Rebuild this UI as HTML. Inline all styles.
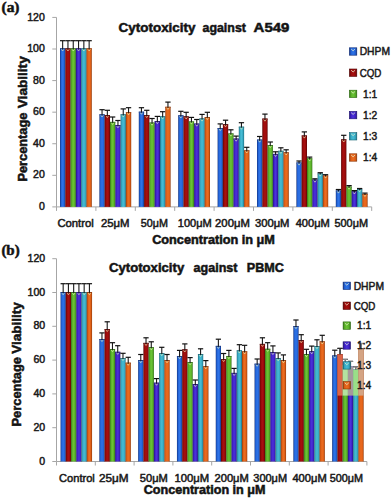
<!DOCTYPE html>
<html><head><meta charset="utf-8"><style>
html,body{margin:0;padding:0;background:#fff;width:392px;height:498px;overflow:hidden}
svg{display:block;font-family:"Liberation Sans", sans-serif}
text{stroke:#1a1a1a;stroke-width:0.5px}
text[font-weight]{stroke-width:0.55px}
</style></head><body>
<svg width="392" height="498" viewBox="0 0 392 498">
<defs><linearGradient id="g0" x1="0" y1="0" x2="1" y2="0"><stop offset="0" stop-color="#0e2c78"/><stop offset="0.2" stop-color="#2262d4"/><stop offset="0.5" stop-color="#2e74e8"/><stop offset="0.8" stop-color="#2262d4"/><stop offset="1" stop-color="#0e2c78"/></linearGradient><linearGradient id="g1" x1="0" y1="0" x2="1" y2="0"><stop offset="0" stop-color="#540202"/><stop offset="0.2" stop-color="#960a0a"/><stop offset="0.5" stop-color="#a81010"/><stop offset="0.8" stop-color="#960a0a"/><stop offset="1" stop-color="#540202"/></linearGradient><linearGradient id="g2" x1="0" y1="0" x2="1" y2="0"><stop offset="0" stop-color="#2c6a10"/><stop offset="0.2" stop-color="#58ae28"/><stop offset="0.5" stop-color="#6ac434"/><stop offset="0.8" stop-color="#58ae28"/><stop offset="1" stop-color="#2c6a10"/></linearGradient><linearGradient id="g3" x1="0" y1="0" x2="1" y2="0"><stop offset="0" stop-color="#1e1074"/><stop offset="0.2" stop-color="#3e20c4"/><stop offset="0.5" stop-color="#4c32da"/><stop offset="0.8" stop-color="#3e20c4"/><stop offset="1" stop-color="#1e1074"/></linearGradient><linearGradient id="g4" x1="0" y1="0" x2="1" y2="0"><stop offset="0" stop-color="#186474"/><stop offset="0.2" stop-color="#36a8c2"/><stop offset="0.5" stop-color="#46bcd4"/><stop offset="0.8" stop-color="#36a8c2"/><stop offset="1" stop-color="#186474"/></linearGradient><linearGradient id="g5" x1="0" y1="0" x2="1" y2="0"><stop offset="0" stop-color="#8a3406"/><stop offset="0.2" stop-color="#dc5e16"/><stop offset="0.5" stop-color="#ec6c20"/><stop offset="0.8" stop-color="#dc5e16"/><stop offset="1" stop-color="#8a3406"/></linearGradient></defs>
<line x1="56.5" y1="17.42" x2="56.5" y2="206.90" stroke="#a6a6a6" stroke-width="1"/>
<line x1="52.30" y1="206.90" x2="56.5" y2="206.90" stroke="#a6a6a6" stroke-width="1"/>
<text x="44.80" y="210.00" text-anchor="end" font-size="10.8" textLength="5.87" lengthAdjust="spacingAndGlyphs" fill="#1a1a1a">0</text>
<line x1="52.30" y1="175.32" x2="56.5" y2="175.32" stroke="#a6a6a6" stroke-width="1"/>
<text x="44.80" y="178.42" text-anchor="end" font-size="10.8" textLength="11.74" lengthAdjust="spacingAndGlyphs" fill="#1a1a1a">20</text>
<line x1="52.30" y1="143.74" x2="56.5" y2="143.74" stroke="#a6a6a6" stroke-width="1"/>
<text x="44.80" y="146.84" text-anchor="end" font-size="10.8" textLength="11.74" lengthAdjust="spacingAndGlyphs" fill="#1a1a1a">40</text>
<line x1="52.30" y1="112.16" x2="56.5" y2="112.16" stroke="#a6a6a6" stroke-width="1"/>
<text x="44.80" y="115.26" text-anchor="end" font-size="10.8" textLength="11.74" lengthAdjust="spacingAndGlyphs" fill="#1a1a1a">60</text>
<line x1="52.30" y1="80.58" x2="56.5" y2="80.58" stroke="#a6a6a6" stroke-width="1"/>
<text x="44.80" y="83.68" text-anchor="end" font-size="10.8" textLength="11.74" lengthAdjust="spacingAndGlyphs" fill="#1a1a1a">80</text>
<line x1="52.30" y1="49.00" x2="56.5" y2="49.00" stroke="#a6a6a6" stroke-width="1"/>
<text x="44.80" y="52.10" text-anchor="end" font-size="10.8" textLength="17.61" lengthAdjust="spacingAndGlyphs" fill="#1a1a1a">100</text>
<line x1="52.30" y1="17.42" x2="56.5" y2="17.42" stroke="#a6a6a6" stroke-width="1"/>
<text x="44.80" y="20.52" text-anchor="end" font-size="10.8" textLength="17.61" lengthAdjust="spacingAndGlyphs" fill="#1a1a1a">120</text>
<line x1="56.5" y1="206.90" x2="371.70" y2="206.90" stroke="#a6a6a6" stroke-width="1"/>
<line x1="56.50" y1="206.90" x2="56.50" y2="210.90" stroke="#a6a6a6" stroke-width="1"/>
<line x1="95.90" y1="206.90" x2="95.90" y2="210.90" stroke="#a6a6a6" stroke-width="1"/>
<line x1="135.30" y1="206.90" x2="135.30" y2="210.90" stroke="#a6a6a6" stroke-width="1"/>
<line x1="174.70" y1="206.90" x2="174.70" y2="210.90" stroke="#a6a6a6" stroke-width="1"/>
<line x1="214.10" y1="206.90" x2="214.10" y2="210.90" stroke="#a6a6a6" stroke-width="1"/>
<line x1="253.50" y1="206.90" x2="253.50" y2="210.90" stroke="#a6a6a6" stroke-width="1"/>
<line x1="292.90" y1="206.90" x2="292.90" y2="210.90" stroke="#a6a6a6" stroke-width="1"/>
<line x1="332.30" y1="206.90" x2="332.30" y2="210.90" stroke="#a6a6a6" stroke-width="1"/>
<line x1="371.70" y1="206.90" x2="371.70" y2="210.90" stroke="#a6a6a6" stroke-width="1"/>
<rect x="60.00" y="48.40" width="5.30" height="158.50" fill="url(#g0)"/>
<rect x="60.00" y="48.40" width="5.30" height="0.8" fill="#0e2c78"/>
<path d="M61.35 49.20 L62.65 51.00 L63.95 49.20" stroke="#e4f0b8" stroke-width="0.9" fill="none" opacity="0.7"/>
<line x1="62.65" y1="40.70" x2="62.65" y2="49.20" stroke="#1a1a1a" stroke-width="1.1"/>
<line x1="60.00" y1="40.70" x2="65.30" y2="40.70" stroke="#111" stroke-width="1.2"/>
<rect x="65.30" y="48.40" width="5.30" height="158.50" fill="url(#g1)"/>
<rect x="65.30" y="48.40" width="5.30" height="0.8" fill="#540202"/>
<path d="M66.65 49.20 L67.95 51.00 L69.25 49.20" stroke="#e4f0b8" stroke-width="0.9" fill="none" opacity="0.7"/>
<line x1="67.95" y1="40.70" x2="67.95" y2="49.20" stroke="#1a1a1a" stroke-width="1.1"/>
<line x1="65.30" y1="40.70" x2="70.60" y2="40.70" stroke="#111" stroke-width="1.2"/>
<rect x="70.60" y="48.40" width="5.30" height="158.50" fill="url(#g2)"/>
<rect x="70.60" y="48.40" width="5.30" height="0.8" fill="#2c6a10"/>
<path d="M71.95 49.20 L73.25 51.00 L74.55 49.20" stroke="#e4f0b8" stroke-width="0.9" fill="none" opacity="0.7"/>
<line x1="73.25" y1="40.70" x2="73.25" y2="49.20" stroke="#1a1a1a" stroke-width="1.1"/>
<line x1="70.60" y1="40.70" x2="75.90" y2="40.70" stroke="#111" stroke-width="1.2"/>
<rect x="75.90" y="48.40" width="5.30" height="158.50" fill="url(#g3)"/>
<rect x="75.90" y="48.40" width="5.30" height="0.8" fill="#1e1074"/>
<path d="M77.25 49.20 L78.55 51.00 L79.85 49.20" stroke="#e4f0b8" stroke-width="0.9" fill="none" opacity="0.7"/>
<line x1="78.55" y1="40.70" x2="78.55" y2="49.20" stroke="#1a1a1a" stroke-width="1.1"/>
<line x1="75.90" y1="40.70" x2="81.20" y2="40.70" stroke="#111" stroke-width="1.2"/>
<rect x="81.20" y="48.40" width="5.30" height="158.50" fill="url(#g4)"/>
<rect x="81.20" y="48.40" width="5.30" height="0.8" fill="#186474"/>
<path d="M82.55 49.20 L83.85 51.00 L85.15 49.20" stroke="#e4f0b8" stroke-width="0.9" fill="none" opacity="0.7"/>
<line x1="83.85" y1="40.70" x2="83.85" y2="49.20" stroke="#1a1a1a" stroke-width="1.1"/>
<line x1="81.20" y1="40.70" x2="86.50" y2="40.70" stroke="#111" stroke-width="1.2"/>
<rect x="86.50" y="48.40" width="5.30" height="158.50" fill="url(#g5)"/>
<rect x="86.50" y="48.40" width="5.30" height="0.8" fill="#8a3406"/>
<path d="M87.85 49.20 L89.15 51.00 L90.45 49.20" stroke="#e4f0b8" stroke-width="0.9" fill="none" opacity="0.7"/>
<line x1="89.15" y1="40.70" x2="89.15" y2="49.20" stroke="#1a1a1a" stroke-width="1.1"/>
<line x1="86.50" y1="40.70" x2="91.80" y2="40.70" stroke="#111" stroke-width="1.2"/>
<rect x="99.40" y="114.40" width="5.30" height="92.50" fill="url(#g0)"/>
<rect x="99.40" y="114.40" width="5.30" height="0.8" fill="#0e2c78"/>
<path d="M100.75 115.20 L102.05 117.00 L103.35 115.20" stroke="#e4f0b8" stroke-width="0.9" fill="none" opacity="0.7"/>
<line x1="102.05" y1="109.70" x2="102.05" y2="115.20" stroke="#1a1a1a" stroke-width="1.1"/>
<line x1="99.40" y1="109.70" x2="104.70" y2="109.70" stroke="#111" stroke-width="1.2"/>
<rect x="104.70" y="115.00" width="5.30" height="91.90" fill="url(#g1)"/>
<rect x="104.70" y="115.00" width="5.30" height="0.8" fill="#540202"/>
<path d="M106.05 115.80 L107.35 117.60 L108.65 115.80" stroke="#e4f0b8" stroke-width="0.9" fill="none" opacity="0.7"/>
<line x1="107.35" y1="110.30" x2="107.35" y2="115.80" stroke="#1a1a1a" stroke-width="1.1"/>
<line x1="104.70" y1="110.30" x2="110.00" y2="110.30" stroke="#111" stroke-width="1.2"/>
<rect x="110.00" y="121.90" width="5.30" height="85.00" fill="url(#g2)"/>
<rect x="110.00" y="121.90" width="5.30" height="0.8" fill="#2c6a10"/>
<path d="M111.35 122.70 L112.65 124.50 L113.95 122.70" stroke="#e4f0b8" stroke-width="0.9" fill="none" opacity="0.7"/>
<line x1="112.65" y1="117.00" x2="112.65" y2="122.70" stroke="#1a1a1a" stroke-width="1.1"/>
<line x1="110.00" y1="117.00" x2="115.30" y2="117.00" stroke="#111" stroke-width="1.2"/>
<rect x="115.30" y="125.20" width="5.30" height="81.70" fill="url(#g3)"/>
<rect x="115.30" y="125.20" width="5.30" height="0.8" fill="#1e1074"/>
<path d="M116.65 126.00 L117.95 127.80 L119.25 126.00" stroke="#e4f0b8" stroke-width="0.9" fill="none" opacity="0.7"/>
<line x1="117.95" y1="120.50" x2="117.95" y2="126.00" stroke="#1a1a1a" stroke-width="1.1"/>
<line x1="115.30" y1="120.50" x2="120.60" y2="120.50" stroke="#111" stroke-width="1.2"/>
<rect x="120.60" y="114.40" width="5.30" height="92.50" fill="url(#g4)"/>
<rect x="120.60" y="114.40" width="5.30" height="0.8" fill="#186474"/>
<path d="M121.95 115.20 L123.25 117.00 L124.55 115.20" stroke="#e4f0b8" stroke-width="0.9" fill="none" opacity="0.7"/>
<line x1="123.25" y1="108.90" x2="123.25" y2="115.20" stroke="#1a1a1a" stroke-width="1.1"/>
<line x1="120.60" y1="108.90" x2="125.90" y2="108.90" stroke="#111" stroke-width="1.2"/>
<rect x="125.90" y="112.30" width="5.30" height="94.60" fill="url(#g5)"/>
<rect x="125.90" y="112.30" width="5.30" height="0.8" fill="#8a3406"/>
<path d="M127.25 113.10 L128.55 114.90 L129.85 113.10" stroke="#e4f0b8" stroke-width="0.9" fill="none" opacity="0.7"/>
<line x1="128.55" y1="107.70" x2="128.55" y2="113.10" stroke="#1a1a1a" stroke-width="1.1"/>
<line x1="125.90" y1="107.70" x2="131.20" y2="107.70" stroke="#111" stroke-width="1.2"/>
<rect x="138.80" y="111.70" width="5.30" height="95.20" fill="url(#g0)"/>
<rect x="138.80" y="111.70" width="5.30" height="0.8" fill="#0e2c78"/>
<path d="M140.15 112.50 L141.45 114.30 L142.75 112.50" stroke="#e4f0b8" stroke-width="0.9" fill="none" opacity="0.7"/>
<line x1="141.45" y1="107.70" x2="141.45" y2="112.50" stroke="#1a1a1a" stroke-width="1.1"/>
<line x1="138.80" y1="107.70" x2="144.10" y2="107.70" stroke="#111" stroke-width="1.2"/>
<rect x="144.10" y="115.00" width="5.30" height="91.90" fill="url(#g1)"/>
<rect x="144.10" y="115.00" width="5.30" height="0.8" fill="#540202"/>
<path d="M145.45 115.80 L146.75 117.60 L148.05 115.80" stroke="#e4f0b8" stroke-width="0.9" fill="none" opacity="0.7"/>
<line x1="146.75" y1="110.30" x2="146.75" y2="115.80" stroke="#1a1a1a" stroke-width="1.1"/>
<line x1="144.10" y1="110.30" x2="149.40" y2="110.30" stroke="#111" stroke-width="1.2"/>
<rect x="149.40" y="122.60" width="5.30" height="84.30" fill="url(#g2)"/>
<rect x="149.40" y="122.60" width="5.30" height="0.8" fill="#2c6a10"/>
<path d="M150.75 123.40 L152.05 125.20 L153.35 123.40" stroke="#e4f0b8" stroke-width="0.9" fill="none" opacity="0.7"/>
<line x1="152.05" y1="118.50" x2="152.05" y2="123.40" stroke="#1a1a1a" stroke-width="1.1"/>
<line x1="149.40" y1="118.50" x2="154.70" y2="118.50" stroke="#111" stroke-width="1.2"/>
<rect x="154.70" y="121.10" width="5.30" height="85.80" fill="url(#g3)"/>
<rect x="154.70" y="121.10" width="5.30" height="0.8" fill="#1e1074"/>
<path d="M156.05 121.90 L157.35 123.70 L158.65 121.90" stroke="#e4f0b8" stroke-width="0.9" fill="none" opacity="0.7"/>
<line x1="157.35" y1="116.40" x2="157.35" y2="121.90" stroke="#1a1a1a" stroke-width="1.1"/>
<line x1="154.70" y1="116.40" x2="160.00" y2="116.40" stroke="#111" stroke-width="1.2"/>
<rect x="160.00" y="116.40" width="5.30" height="90.50" fill="url(#g4)"/>
<rect x="160.00" y="116.40" width="5.30" height="0.8" fill="#186474"/>
<path d="M161.35 117.20 L162.65 119.00 L163.95 117.20" stroke="#e4f0b8" stroke-width="0.9" fill="none" opacity="0.7"/>
<line x1="162.65" y1="111.70" x2="162.65" y2="117.20" stroke="#1a1a1a" stroke-width="1.1"/>
<line x1="160.00" y1="111.70" x2="165.30" y2="111.70" stroke="#111" stroke-width="1.2"/>
<rect x="165.30" y="106.80" width="5.30" height="100.10" fill="url(#g5)"/>
<rect x="165.30" y="106.80" width="5.30" height="0.8" fill="#8a3406"/>
<path d="M166.65 107.60 L167.95 109.40 L169.25 107.60" stroke="#e4f0b8" stroke-width="0.9" fill="none" opacity="0.7"/>
<line x1="167.95" y1="102.10" x2="167.95" y2="107.60" stroke="#1a1a1a" stroke-width="1.1"/>
<line x1="165.30" y1="102.10" x2="170.60" y2="102.10" stroke="#111" stroke-width="1.2"/>
<rect x="178.20" y="115.40" width="5.30" height="91.50" fill="url(#g0)"/>
<rect x="178.20" y="115.40" width="5.30" height="0.8" fill="#0e2c78"/>
<path d="M179.55 116.20 L180.85 118.00 L182.15 116.20" stroke="#e4f0b8" stroke-width="0.9" fill="none" opacity="0.7"/>
<line x1="180.85" y1="111.30" x2="180.85" y2="116.20" stroke="#1a1a1a" stroke-width="1.1"/>
<line x1="178.20" y1="111.30" x2="183.50" y2="111.30" stroke="#111" stroke-width="1.2"/>
<rect x="183.50" y="116.40" width="5.30" height="90.50" fill="url(#g1)"/>
<rect x="183.50" y="116.40" width="5.30" height="0.8" fill="#540202"/>
<path d="M184.85 117.20 L186.15 119.00 L187.45 117.20" stroke="#e4f0b8" stroke-width="0.9" fill="none" opacity="0.7"/>
<line x1="186.15" y1="112.30" x2="186.15" y2="117.20" stroke="#1a1a1a" stroke-width="1.1"/>
<line x1="183.50" y1="112.30" x2="188.80" y2="112.30" stroke="#111" stroke-width="1.2"/>
<rect x="188.80" y="121.50" width="5.30" height="85.40" fill="url(#g2)"/>
<rect x="188.80" y="121.50" width="5.30" height="0.8" fill="#2c6a10"/>
<path d="M190.15 122.30 L191.45 124.10 L192.75 122.30" stroke="#e4f0b8" stroke-width="0.9" fill="none" opacity="0.7"/>
<line x1="191.45" y1="117.40" x2="191.45" y2="122.30" stroke="#1a1a1a" stroke-width="1.1"/>
<line x1="188.80" y1="117.40" x2="194.10" y2="117.40" stroke="#111" stroke-width="1.2"/>
<rect x="194.10" y="123.60" width="5.30" height="83.30" fill="url(#g3)"/>
<rect x="194.10" y="123.60" width="5.30" height="0.8" fill="#1e1074"/>
<path d="M195.45 124.40 L196.75 126.20 L198.05 124.40" stroke="#e4f0b8" stroke-width="0.9" fill="none" opacity="0.7"/>
<line x1="196.75" y1="119.50" x2="196.75" y2="124.40" stroke="#1a1a1a" stroke-width="1.1"/>
<line x1="194.10" y1="119.50" x2="199.40" y2="119.50" stroke="#111" stroke-width="1.2"/>
<rect x="199.40" y="118.50" width="5.30" height="88.40" fill="url(#g4)"/>
<rect x="199.40" y="118.50" width="5.30" height="0.8" fill="#186474"/>
<path d="M200.75 119.30 L202.05 121.10 L203.35 119.30" stroke="#e4f0b8" stroke-width="0.9" fill="none" opacity="0.7"/>
<line x1="202.05" y1="114.40" x2="202.05" y2="119.30" stroke="#1a1a1a" stroke-width="1.1"/>
<line x1="199.40" y1="114.40" x2="204.70" y2="114.40" stroke="#111" stroke-width="1.2"/>
<rect x="204.70" y="117.00" width="5.30" height="89.90" fill="url(#g5)"/>
<rect x="204.70" y="117.00" width="5.30" height="0.8" fill="#8a3406"/>
<path d="M206.05 117.80 L207.35 119.60 L208.65 117.80" stroke="#e4f0b8" stroke-width="0.9" fill="none" opacity="0.7"/>
<line x1="207.35" y1="112.30" x2="207.35" y2="117.80" stroke="#1a1a1a" stroke-width="1.1"/>
<line x1="204.70" y1="112.30" x2="210.00" y2="112.30" stroke="#111" stroke-width="1.2"/>
<rect x="217.60" y="128.00" width="5.30" height="78.90" fill="url(#g0)"/>
<rect x="217.60" y="128.00" width="5.30" height="0.8" fill="#0e2c78"/>
<path d="M218.95 128.80 L220.25 130.60 L221.55 128.80" stroke="#e4f0b8" stroke-width="0.9" fill="none" opacity="0.7"/>
<line x1="220.25" y1="123.90" x2="220.25" y2="128.80" stroke="#1a1a1a" stroke-width="1.1"/>
<line x1="217.60" y1="123.90" x2="222.90" y2="123.90" stroke="#111" stroke-width="1.2"/>
<rect x="222.90" y="124.30" width="5.30" height="82.60" fill="url(#g1)"/>
<rect x="222.90" y="124.30" width="5.30" height="0.8" fill="#540202"/>
<path d="M224.25 125.10 L225.55 126.90 L226.85 125.10" stroke="#e4f0b8" stroke-width="0.9" fill="none" opacity="0.7"/>
<line x1="225.55" y1="120.20" x2="225.55" y2="125.10" stroke="#1a1a1a" stroke-width="1.1"/>
<line x1="222.90" y1="120.20" x2="228.20" y2="120.20" stroke="#111" stroke-width="1.2"/>
<rect x="228.20" y="133.50" width="5.30" height="73.40" fill="url(#g2)"/>
<rect x="228.20" y="133.50" width="5.30" height="0.8" fill="#2c6a10"/>
<path d="M229.55 134.30 L230.85 136.10 L232.15 134.30" stroke="#e4f0b8" stroke-width="0.9" fill="none" opacity="0.7"/>
<line x1="230.85" y1="129.80" x2="230.85" y2="134.30" stroke="#1a1a1a" stroke-width="1.1"/>
<line x1="228.20" y1="129.80" x2="233.50" y2="129.80" stroke="#111" stroke-width="1.2"/>
<rect x="233.50" y="138.60" width="5.30" height="68.30" fill="url(#g3)"/>
<rect x="233.50" y="138.60" width="5.30" height="0.8" fill="#1e1074"/>
<path d="M234.85 139.40 L236.15 141.20 L237.45 139.40" stroke="#e4f0b8" stroke-width="0.9" fill="none" opacity="0.7"/>
<line x1="236.15" y1="136.10" x2="236.15" y2="139.40" stroke="#1a1a1a" stroke-width="1.1"/>
<line x1="233.50" y1="136.10" x2="238.80" y2="136.10" stroke="#111" stroke-width="1.2"/>
<rect x="238.80" y="126.70" width="5.30" height="80.20" fill="url(#g4)"/>
<rect x="238.80" y="126.70" width="5.30" height="0.8" fill="#186474"/>
<path d="M240.15 127.50 L241.45 129.30 L242.75 127.50" stroke="#e4f0b8" stroke-width="0.9" fill="none" opacity="0.7"/>
<line x1="241.45" y1="122.70" x2="241.45" y2="127.50" stroke="#1a1a1a" stroke-width="1.1"/>
<line x1="238.80" y1="122.70" x2="244.10" y2="122.70" stroke="#111" stroke-width="1.2"/>
<rect x="244.10" y="150.40" width="5.30" height="56.50" fill="url(#g5)"/>
<rect x="244.10" y="150.40" width="5.30" height="0.8" fill="#8a3406"/>
<path d="M245.45 151.20 L246.75 153.00 L248.05 151.20" stroke="#e4f0b8" stroke-width="0.9" fill="none" opacity="0.7"/>
<line x1="246.75" y1="147.30" x2="246.75" y2="151.20" stroke="#1a1a1a" stroke-width="1.1"/>
<line x1="244.10" y1="147.30" x2="249.40" y2="147.30" stroke="#111" stroke-width="1.2"/>
<rect x="257.00" y="139.60" width="5.30" height="67.30" fill="url(#g0)"/>
<rect x="257.00" y="139.60" width="5.30" height="0.8" fill="#0e2c78"/>
<path d="M258.35 140.40 L259.65 142.20 L260.95 140.40" stroke="#e4f0b8" stroke-width="0.9" fill="none" opacity="0.7"/>
<line x1="259.65" y1="136.50" x2="259.65" y2="140.40" stroke="#1a1a1a" stroke-width="1.1"/>
<line x1="257.00" y1="136.50" x2="262.30" y2="136.50" stroke="#111" stroke-width="1.2"/>
<rect x="262.30" y="118.60" width="5.30" height="88.30" fill="url(#g1)"/>
<rect x="262.30" y="118.60" width="5.30" height="0.8" fill="#540202"/>
<path d="M263.65 119.40 L264.95 121.20 L266.25 119.40" stroke="#e4f0b8" stroke-width="0.9" fill="none" opacity="0.7"/>
<line x1="264.95" y1="114.10" x2="264.95" y2="119.40" stroke="#1a1a1a" stroke-width="1.1"/>
<line x1="262.30" y1="114.10" x2="267.60" y2="114.10" stroke="#111" stroke-width="1.2"/>
<rect x="267.60" y="145.10" width="5.30" height="61.80" fill="url(#g2)"/>
<rect x="267.60" y="145.10" width="5.30" height="0.8" fill="#2c6a10"/>
<path d="M268.95 145.90 L270.25 147.70 L271.55 145.90" stroke="#e4f0b8" stroke-width="0.9" fill="none" opacity="0.7"/>
<line x1="270.25" y1="142.00" x2="270.25" y2="145.90" stroke="#1a1a1a" stroke-width="1.1"/>
<line x1="267.60" y1="142.00" x2="272.90" y2="142.00" stroke="#111" stroke-width="1.2"/>
<rect x="272.90" y="153.90" width="5.30" height="53.00" fill="url(#g3)"/>
<rect x="272.90" y="153.90" width="5.30" height="0.8" fill="#1e1074"/>
<path d="M274.25 154.70 L275.55 156.50 L276.85 154.70" stroke="#e4f0b8" stroke-width="0.9" fill="none" opacity="0.7"/>
<line x1="275.55" y1="151.80" x2="275.55" y2="154.70" stroke="#1a1a1a" stroke-width="1.1"/>
<line x1="272.90" y1="151.80" x2="278.20" y2="151.80" stroke="#111" stroke-width="1.2"/>
<rect x="278.20" y="150.80" width="5.30" height="56.10" fill="url(#g4)"/>
<rect x="278.20" y="150.80" width="5.30" height="0.8" fill="#186474"/>
<path d="M279.55 151.60 L280.85 153.40 L282.15 151.60" stroke="#e4f0b8" stroke-width="0.9" fill="none" opacity="0.7"/>
<line x1="280.85" y1="147.80" x2="280.85" y2="151.60" stroke="#1a1a1a" stroke-width="1.1"/>
<line x1="278.20" y1="147.80" x2="283.50" y2="147.80" stroke="#111" stroke-width="1.2"/>
<rect x="283.50" y="152.40" width="5.30" height="54.50" fill="url(#g5)"/>
<rect x="283.50" y="152.40" width="5.30" height="0.8" fill="#8a3406"/>
<path d="M284.85 153.20 L286.15 155.00 L287.45 153.20" stroke="#e4f0b8" stroke-width="0.9" fill="none" opacity="0.7"/>
<line x1="286.15" y1="149.80" x2="286.15" y2="153.20" stroke="#1a1a1a" stroke-width="1.1"/>
<line x1="283.50" y1="149.80" x2="288.80" y2="149.80" stroke="#111" stroke-width="1.2"/>
<rect x="296.40" y="162.50" width="5.30" height="44.40" fill="url(#g0)"/>
<rect x="296.40" y="162.50" width="5.30" height="0.8" fill="#0e2c78"/>
<path d="M297.75 163.30 L299.05 165.10 L300.35 163.30" stroke="#e4f0b8" stroke-width="0.9" fill="none" opacity="0.7"/>
<line x1="299.05" y1="161.00" x2="299.05" y2="163.30" stroke="#1a1a1a" stroke-width="1.1"/>
<line x1="296.40" y1="161.00" x2="301.70" y2="161.00" stroke="#111" stroke-width="1.2"/>
<rect x="301.70" y="135.50" width="5.30" height="71.40" fill="url(#g1)"/>
<rect x="301.70" y="135.50" width="5.30" height="0.8" fill="#540202"/>
<path d="M303.05 136.30 L304.35 138.10 L305.65 136.30" stroke="#e4f0b8" stroke-width="0.9" fill="none" opacity="0.7"/>
<line x1="304.35" y1="131.90" x2="304.35" y2="136.30" stroke="#1a1a1a" stroke-width="1.1"/>
<line x1="301.70" y1="131.90" x2="307.00" y2="131.90" stroke="#111" stroke-width="1.2"/>
<rect x="307.00" y="158.40" width="5.30" height="48.50" fill="url(#g2)"/>
<rect x="307.00" y="158.40" width="5.30" height="0.8" fill="#2c6a10"/>
<path d="M308.35 159.20 L309.65 161.00 L310.95 159.20" stroke="#e4f0b8" stroke-width="0.9" fill="none" opacity="0.7"/>
<line x1="309.65" y1="157.10" x2="309.65" y2="159.20" stroke="#1a1a1a" stroke-width="1.1"/>
<line x1="307.00" y1="157.10" x2="312.30" y2="157.10" stroke="#111" stroke-width="1.2"/>
<rect x="312.30" y="179.60" width="5.30" height="27.30" fill="url(#g3)"/>
<rect x="312.30" y="179.60" width="5.30" height="0.8" fill="#1e1074"/>
<path d="M313.65 180.40 L314.95 182.20 L316.25 180.40" stroke="#e4f0b8" stroke-width="0.9" fill="none" opacity="0.7"/>
<line x1="314.95" y1="178.80" x2="314.95" y2="180.40" stroke="#1a1a1a" stroke-width="1.1"/>
<line x1="312.30" y1="178.80" x2="317.60" y2="178.80" stroke="#111" stroke-width="1.2"/>
<rect x="317.60" y="173.50" width="5.30" height="33.40" fill="url(#g4)"/>
<rect x="317.60" y="173.50" width="5.30" height="0.8" fill="#186474"/>
<path d="M318.95 174.30 L320.25 176.10 L321.55 174.30" stroke="#e4f0b8" stroke-width="0.9" fill="none" opacity="0.7"/>
<line x1="320.25" y1="172.70" x2="320.25" y2="174.30" stroke="#1a1a1a" stroke-width="1.1"/>
<line x1="317.60" y1="172.70" x2="322.90" y2="172.70" stroke="#111" stroke-width="1.2"/>
<rect x="322.90" y="175.50" width="5.30" height="31.40" fill="url(#g5)"/>
<rect x="322.90" y="175.50" width="5.30" height="0.8" fill="#8a3406"/>
<path d="M324.25 176.30 L325.55 178.10 L326.85 176.30" stroke="#e4f0b8" stroke-width="0.9" fill="none" opacity="0.7"/>
<line x1="325.55" y1="174.70" x2="325.55" y2="176.30" stroke="#1a1a1a" stroke-width="1.1"/>
<line x1="322.90" y1="174.70" x2="328.20" y2="174.70" stroke="#111" stroke-width="1.2"/>
<rect x="335.80" y="190.50" width="5.30" height="16.40" fill="url(#g0)"/>
<rect x="335.80" y="190.50" width="5.30" height="0.8" fill="#0e2c78"/>
<path d="M337.15 191.30 L338.45 193.10 L339.75 191.30" stroke="#e4f0b8" stroke-width="0.9" fill="none" opacity="0.7"/>
<line x1="338.45" y1="189.50" x2="338.45" y2="191.30" stroke="#1a1a1a" stroke-width="1.1"/>
<line x1="335.80" y1="189.50" x2="341.10" y2="189.50" stroke="#111" stroke-width="1.2"/>
<rect x="341.10" y="139.40" width="5.30" height="67.50" fill="url(#g1)"/>
<rect x="341.10" y="139.40" width="5.30" height="0.8" fill="#540202"/>
<path d="M342.45 140.20 L343.75 142.00 L345.05 140.20" stroke="#e4f0b8" stroke-width="0.9" fill="none" opacity="0.7"/>
<line x1="343.75" y1="135.30" x2="343.75" y2="140.20" stroke="#1a1a1a" stroke-width="1.1"/>
<line x1="341.10" y1="135.30" x2="346.40" y2="135.30" stroke="#111" stroke-width="1.2"/>
<rect x="346.40" y="186.60" width="5.30" height="20.30" fill="url(#g2)"/>
<rect x="346.40" y="186.60" width="5.30" height="0.8" fill="#2c6a10"/>
<path d="M347.75 187.40 L349.05 189.20 L350.35 187.40" stroke="#e4f0b8" stroke-width="0.9" fill="none" opacity="0.7"/>
<line x1="349.05" y1="185.60" x2="349.05" y2="187.40" stroke="#1a1a1a" stroke-width="1.1"/>
<line x1="346.40" y1="185.60" x2="351.70" y2="185.60" stroke="#111" stroke-width="1.2"/>
<rect x="351.70" y="191.40" width="5.30" height="15.50" fill="url(#g3)"/>
<rect x="351.70" y="191.40" width="5.30" height="0.8" fill="#1e1074"/>
<path d="M353.05 192.20 L354.35 194.00 L355.65 192.20" stroke="#e4f0b8" stroke-width="0.9" fill="none" opacity="0.7"/>
<line x1="354.35" y1="190.60" x2="354.35" y2="192.20" stroke="#1a1a1a" stroke-width="1.1"/>
<line x1="351.70" y1="190.60" x2="357.00" y2="190.60" stroke="#111" stroke-width="1.2"/>
<rect x="357.00" y="189.30" width="5.30" height="17.60" fill="url(#g4)"/>
<rect x="357.00" y="189.30" width="5.30" height="0.8" fill="#186474"/>
<path d="M358.35 190.10 L359.65 191.90 L360.95 190.10" stroke="#e4f0b8" stroke-width="0.9" fill="none" opacity="0.7"/>
<line x1="359.65" y1="188.50" x2="359.65" y2="190.10" stroke="#1a1a1a" stroke-width="1.1"/>
<line x1="357.00" y1="188.50" x2="362.30" y2="188.50" stroke="#111" stroke-width="1.2"/>
<rect x="362.30" y="193.90" width="5.30" height="13.00" fill="url(#g5)"/>
<rect x="362.30" y="193.90" width="5.30" height="0.8" fill="#8a3406"/>
<path d="M363.65 194.70 L364.95 196.50 L366.25 194.70" stroke="#e4f0b8" stroke-width="0.9" fill="none" opacity="0.7"/>
<line x1="364.95" y1="193.10" x2="364.95" y2="194.70" stroke="#1a1a1a" stroke-width="1.1"/>
<line x1="362.30" y1="193.10" x2="367.60" y2="193.10" stroke="#111" stroke-width="1.2"/>
<text x="57.40" y="226.80" font-size="10.7" textLength="36.40" lengthAdjust="spacingAndGlyphs" fill="#1a1a1a">Control</text>
<text x="100.90" y="226.80" font-size="10.7" textLength="28.60" lengthAdjust="spacingAndGlyphs" fill="#1a1a1a">25μM</text>
<text x="140.80" y="226.80" font-size="10.7" textLength="27.10" lengthAdjust="spacingAndGlyphs" fill="#1a1a1a">50μM</text>
<text x="177.80" y="226.80" font-size="10.7" textLength="34.00" lengthAdjust="spacingAndGlyphs" fill="#1a1a1a">100μM</text>
<text x="215.10" y="226.80" font-size="10.7" textLength="34.70" lengthAdjust="spacingAndGlyphs" fill="#1a1a1a">200μM</text>
<text x="254.90" y="226.80" font-size="10.7" textLength="34.60" lengthAdjust="spacingAndGlyphs" fill="#1a1a1a">300μM</text>
<text x="295.70" y="226.80" font-size="10.7" textLength="34.10" lengthAdjust="spacingAndGlyphs" fill="#1a1a1a">400μM</text>
<text x="334.50" y="226.80" font-size="10.7" textLength="33.50" lengthAdjust="spacingAndGlyphs" fill="#1a1a1a">500μM</text>
<line x1="56.5" y1="258.70" x2="56.5" y2="461.50" stroke="#a6a6a6" stroke-width="1"/>
<line x1="52.30" y1="461.50" x2="56.5" y2="461.50" stroke="#a6a6a6" stroke-width="1"/>
<text x="45.20" y="464.60" text-anchor="end" font-size="10.8" textLength="5.87" lengthAdjust="spacingAndGlyphs" fill="#1a1a1a">0</text>
<line x1="52.30" y1="427.70" x2="56.5" y2="427.70" stroke="#a6a6a6" stroke-width="1"/>
<text x="45.20" y="430.80" text-anchor="end" font-size="10.8" textLength="11.74" lengthAdjust="spacingAndGlyphs" fill="#1a1a1a">20</text>
<line x1="52.30" y1="393.90" x2="56.5" y2="393.90" stroke="#a6a6a6" stroke-width="1"/>
<text x="45.20" y="397.00" text-anchor="end" font-size="10.8" textLength="11.74" lengthAdjust="spacingAndGlyphs" fill="#1a1a1a">40</text>
<line x1="52.30" y1="360.10" x2="56.5" y2="360.10" stroke="#a6a6a6" stroke-width="1"/>
<text x="45.20" y="363.20" text-anchor="end" font-size="10.8" textLength="11.74" lengthAdjust="spacingAndGlyphs" fill="#1a1a1a">60</text>
<line x1="52.30" y1="326.30" x2="56.5" y2="326.30" stroke="#a6a6a6" stroke-width="1"/>
<text x="45.20" y="329.40" text-anchor="end" font-size="10.8" textLength="11.74" lengthAdjust="spacingAndGlyphs" fill="#1a1a1a">80</text>
<line x1="52.30" y1="292.50" x2="56.5" y2="292.50" stroke="#a6a6a6" stroke-width="1"/>
<text x="45.20" y="295.60" text-anchor="end" font-size="10.8" textLength="17.61" lengthAdjust="spacingAndGlyphs" fill="#1a1a1a">100</text>
<line x1="52.30" y1="258.70" x2="56.5" y2="258.70" stroke="#a6a6a6" stroke-width="1"/>
<text x="45.20" y="261.80" text-anchor="end" font-size="10.8" textLength="17.61" lengthAdjust="spacingAndGlyphs" fill="#1a1a1a">120</text>
<line x1="56.5" y1="461.50" x2="366.90" y2="461.50" stroke="#a6a6a6" stroke-width="1"/>
<line x1="56.50" y1="461.50" x2="56.50" y2="465.50" stroke="#a6a6a6" stroke-width="1"/>
<line x1="95.30" y1="461.50" x2="95.30" y2="465.50" stroke="#a6a6a6" stroke-width="1"/>
<line x1="134.10" y1="461.50" x2="134.10" y2="465.50" stroke="#a6a6a6" stroke-width="1"/>
<line x1="172.90" y1="461.50" x2="172.90" y2="465.50" stroke="#a6a6a6" stroke-width="1"/>
<line x1="211.70" y1="461.50" x2="211.70" y2="465.50" stroke="#a6a6a6" stroke-width="1"/>
<line x1="250.50" y1="461.50" x2="250.50" y2="465.50" stroke="#a6a6a6" stroke-width="1"/>
<line x1="289.30" y1="461.50" x2="289.30" y2="465.50" stroke="#a6a6a6" stroke-width="1"/>
<line x1="328.10" y1="461.50" x2="328.10" y2="465.50" stroke="#a6a6a6" stroke-width="1"/>
<line x1="366.90" y1="461.50" x2="366.90" y2="465.50" stroke="#a6a6a6" stroke-width="1"/>
<rect x="60.55" y="292.20" width="5.25" height="169.30" fill="url(#g0)"/>
<rect x="60.55" y="292.20" width="5.25" height="0.8" fill="#0e2c78"/>
<path d="M61.88 293.00 L63.17 294.80 L64.47 293.00" stroke="#e4f0b8" stroke-width="0.9" fill="none" opacity="0.7"/>
<line x1="63.17" y1="283.70" x2="63.17" y2="293.00" stroke="#1a1a1a" stroke-width="1.1"/>
<line x1="60.55" y1="283.70" x2="65.80" y2="283.70" stroke="#111" stroke-width="1.2"/>
<rect x="65.80" y="292.20" width="5.25" height="169.30" fill="url(#g1)"/>
<rect x="65.80" y="292.20" width="5.25" height="0.8" fill="#540202"/>
<path d="M67.12 293.00 L68.42 294.80 L69.72 293.00" stroke="#e4f0b8" stroke-width="0.9" fill="none" opacity="0.7"/>
<line x1="68.42" y1="283.70" x2="68.42" y2="293.00" stroke="#1a1a1a" stroke-width="1.1"/>
<line x1="65.80" y1="283.70" x2="71.05" y2="283.70" stroke="#111" stroke-width="1.2"/>
<rect x="71.05" y="292.20" width="5.25" height="169.30" fill="url(#g2)"/>
<rect x="71.05" y="292.20" width="5.25" height="0.8" fill="#2c6a10"/>
<path d="M72.38 293.00 L73.67 294.80 L74.97 293.00" stroke="#e4f0b8" stroke-width="0.9" fill="none" opacity="0.7"/>
<line x1="73.67" y1="283.70" x2="73.67" y2="293.00" stroke="#1a1a1a" stroke-width="1.1"/>
<line x1="71.05" y1="283.70" x2="76.30" y2="283.70" stroke="#111" stroke-width="1.2"/>
<rect x="76.30" y="292.20" width="5.25" height="169.30" fill="url(#g3)"/>
<rect x="76.30" y="292.20" width="5.25" height="0.8" fill="#1e1074"/>
<path d="M77.62 293.00 L78.92 294.80 L80.22 293.00" stroke="#e4f0b8" stroke-width="0.9" fill="none" opacity="0.7"/>
<line x1="78.92" y1="283.70" x2="78.92" y2="293.00" stroke="#1a1a1a" stroke-width="1.1"/>
<line x1="76.30" y1="283.70" x2="81.55" y2="283.70" stroke="#111" stroke-width="1.2"/>
<rect x="81.55" y="292.20" width="5.25" height="169.30" fill="url(#g4)"/>
<rect x="81.55" y="292.20" width="5.25" height="0.8" fill="#186474"/>
<path d="M82.88 293.00 L84.17 294.80 L85.47 293.00" stroke="#e4f0b8" stroke-width="0.9" fill="none" opacity="0.7"/>
<line x1="84.17" y1="283.70" x2="84.17" y2="293.00" stroke="#1a1a1a" stroke-width="1.1"/>
<line x1="81.55" y1="283.70" x2="86.80" y2="283.70" stroke="#111" stroke-width="1.2"/>
<rect x="86.80" y="292.20" width="5.25" height="169.30" fill="url(#g5)"/>
<rect x="86.80" y="292.20" width="5.25" height="0.8" fill="#8a3406"/>
<path d="M88.12 293.00 L89.42 294.80 L90.72 293.00" stroke="#e4f0b8" stroke-width="0.9" fill="none" opacity="0.7"/>
<line x1="89.42" y1="283.70" x2="89.42" y2="293.00" stroke="#1a1a1a" stroke-width="1.1"/>
<line x1="86.80" y1="283.70" x2="92.05" y2="283.70" stroke="#111" stroke-width="1.2"/>
<rect x="99.35" y="339.00" width="5.25" height="122.50" fill="url(#g0)"/>
<rect x="99.35" y="339.00" width="5.25" height="0.8" fill="#0e2c78"/>
<path d="M100.67 339.80 L101.97 341.60 L103.27 339.80" stroke="#e4f0b8" stroke-width="0.9" fill="none" opacity="0.7"/>
<line x1="101.97" y1="332.90" x2="101.97" y2="339.80" stroke="#1a1a1a" stroke-width="1.1"/>
<line x1="99.35" y1="332.90" x2="104.60" y2="332.90" stroke="#111" stroke-width="1.2"/>
<rect x="104.60" y="329.00" width="5.25" height="132.50" fill="url(#g1)"/>
<rect x="104.60" y="329.00" width="5.25" height="0.8" fill="#540202"/>
<path d="M105.92 329.80 L107.22 331.60 L108.52 329.80" stroke="#e4f0b8" stroke-width="0.9" fill="none" opacity="0.7"/>
<line x1="107.22" y1="321.80" x2="107.22" y2="329.80" stroke="#1a1a1a" stroke-width="1.1"/>
<line x1="104.60" y1="321.80" x2="109.85" y2="321.80" stroke="#111" stroke-width="1.2"/>
<rect x="109.85" y="349.20" width="5.25" height="112.30" fill="url(#g2)"/>
<rect x="109.85" y="349.20" width="5.25" height="0.8" fill="#2c6a10"/>
<path d="M111.17 350.00 L112.47 351.80 L113.77 350.00" stroke="#e4f0b8" stroke-width="0.9" fill="none" opacity="0.7"/>
<line x1="112.47" y1="342.70" x2="112.47" y2="350.00" stroke="#1a1a1a" stroke-width="1.1"/>
<line x1="109.85" y1="342.70" x2="115.10" y2="342.70" stroke="#111" stroke-width="1.2"/>
<rect x="115.10" y="351.80" width="5.25" height="109.70" fill="url(#g3)"/>
<rect x="115.10" y="351.80" width="5.25" height="0.8" fill="#1e1074"/>
<path d="M116.42 352.60 L117.72 354.40 L119.02 352.60" stroke="#e4f0b8" stroke-width="0.9" fill="none" opacity="0.7"/>
<line x1="117.72" y1="345.70" x2="117.72" y2="352.60" stroke="#1a1a1a" stroke-width="1.1"/>
<line x1="115.10" y1="345.70" x2="120.35" y2="345.70" stroke="#111" stroke-width="1.2"/>
<rect x="120.35" y="358.00" width="5.25" height="103.50" fill="url(#g4)"/>
<rect x="120.35" y="358.00" width="5.25" height="0.8" fill="#186474"/>
<path d="M121.67 358.80 L122.97 360.60 L124.27 358.80" stroke="#e4f0b8" stroke-width="0.9" fill="none" opacity="0.7"/>
<line x1="122.97" y1="353.30" x2="122.97" y2="358.80" stroke="#1a1a1a" stroke-width="1.1"/>
<line x1="120.35" y1="353.30" x2="125.60" y2="353.30" stroke="#111" stroke-width="1.2"/>
<rect x="125.60" y="362.70" width="5.25" height="98.80" fill="url(#g5)"/>
<rect x="125.60" y="362.70" width="5.25" height="0.8" fill="#8a3406"/>
<path d="M126.92 363.50 L128.22 365.30 L129.53 363.50" stroke="#e4f0b8" stroke-width="0.9" fill="none" opacity="0.7"/>
<line x1="128.22" y1="357.30" x2="128.22" y2="363.50" stroke="#1a1a1a" stroke-width="1.1"/>
<line x1="125.60" y1="357.30" x2="130.85" y2="357.30" stroke="#111" stroke-width="1.2"/>
<rect x="138.15" y="360.20" width="5.25" height="101.30" fill="url(#g0)"/>
<rect x="138.15" y="360.20" width="5.25" height="0.8" fill="#0e2c78"/>
<path d="M139.47 361.00 L140.78 362.80 L142.08 361.00" stroke="#e4f0b8" stroke-width="0.9" fill="none" opacity="0.7"/>
<line x1="140.78" y1="354.50" x2="140.78" y2="361.00" stroke="#1a1a1a" stroke-width="1.1"/>
<line x1="138.15" y1="354.50" x2="143.40" y2="354.50" stroke="#111" stroke-width="1.2"/>
<rect x="143.40" y="342.90" width="5.25" height="118.60" fill="url(#g1)"/>
<rect x="143.40" y="342.90" width="5.25" height="0.8" fill="#540202"/>
<path d="M144.72 343.70 L146.03 345.50 L147.33 343.70" stroke="#e4f0b8" stroke-width="0.9" fill="none" opacity="0.7"/>
<line x1="146.03" y1="337.80" x2="146.03" y2="343.70" stroke="#1a1a1a" stroke-width="1.1"/>
<line x1="143.40" y1="337.80" x2="148.65" y2="337.80" stroke="#111" stroke-width="1.2"/>
<rect x="148.65" y="347.30" width="5.25" height="114.20" fill="url(#g2)"/>
<rect x="148.65" y="347.30" width="5.25" height="0.8" fill="#2c6a10"/>
<path d="M149.97 348.10 L151.28 349.90 L152.58 348.10" stroke="#e4f0b8" stroke-width="0.9" fill="none" opacity="0.7"/>
<line x1="151.28" y1="341.80" x2="151.28" y2="348.10" stroke="#1a1a1a" stroke-width="1.1"/>
<line x1="148.65" y1="341.80" x2="153.90" y2="341.80" stroke="#111" stroke-width="1.2"/>
<rect x="153.90" y="382.70" width="5.25" height="78.80" fill="url(#g3)"/>
<rect x="153.90" y="382.70" width="5.25" height="0.8" fill="#1e1074"/>
<path d="M155.22 383.50 L156.53 385.30 L157.83 383.50" stroke="#e4f0b8" stroke-width="0.9" fill="none" opacity="0.7"/>
<line x1="156.53" y1="378.60" x2="156.53" y2="383.50" stroke="#1a1a1a" stroke-width="1.1"/>
<line x1="153.90" y1="378.60" x2="159.15" y2="378.60" stroke="#111" stroke-width="1.2"/>
<rect x="159.15" y="353.10" width="5.25" height="108.40" fill="url(#g4)"/>
<rect x="159.15" y="353.10" width="5.25" height="0.8" fill="#186474"/>
<path d="M160.47 353.90 L161.78 355.70 L163.08 353.90" stroke="#e4f0b8" stroke-width="0.9" fill="none" opacity="0.7"/>
<line x1="161.78" y1="347.30" x2="161.78" y2="353.90" stroke="#1a1a1a" stroke-width="1.1"/>
<line x1="159.15" y1="347.30" x2="164.40" y2="347.30" stroke="#111" stroke-width="1.2"/>
<rect x="164.40" y="360.20" width="5.25" height="101.30" fill="url(#g5)"/>
<rect x="164.40" y="360.20" width="5.25" height="0.8" fill="#8a3406"/>
<path d="M165.72 361.00 L167.03 362.80 L168.33 361.00" stroke="#e4f0b8" stroke-width="0.9" fill="none" opacity="0.7"/>
<line x1="167.03" y1="354.50" x2="167.03" y2="361.00" stroke="#1a1a1a" stroke-width="1.1"/>
<line x1="164.40" y1="354.50" x2="169.65" y2="354.50" stroke="#111" stroke-width="1.2"/>
<rect x="176.95" y="356.10" width="5.25" height="105.40" fill="url(#g0)"/>
<rect x="176.95" y="356.10" width="5.25" height="0.8" fill="#0e2c78"/>
<path d="M178.27 356.90 L179.57 358.70 L180.88 356.90" stroke="#e4f0b8" stroke-width="0.9" fill="none" opacity="0.7"/>
<line x1="179.57" y1="350.40" x2="179.57" y2="356.90" stroke="#1a1a1a" stroke-width="1.1"/>
<line x1="176.95" y1="350.40" x2="182.20" y2="350.40" stroke="#111" stroke-width="1.2"/>
<rect x="182.20" y="349.40" width="5.25" height="112.10" fill="url(#g1)"/>
<rect x="182.20" y="349.40" width="5.25" height="0.8" fill="#540202"/>
<path d="M183.52 350.20 L184.82 352.00 L186.12 350.20" stroke="#e4f0b8" stroke-width="0.9" fill="none" opacity="0.7"/>
<line x1="184.82" y1="343.90" x2="184.82" y2="350.20" stroke="#1a1a1a" stroke-width="1.1"/>
<line x1="182.20" y1="343.90" x2="187.45" y2="343.90" stroke="#111" stroke-width="1.2"/>
<rect x="187.45" y="362.20" width="5.25" height="99.30" fill="url(#g2)"/>
<rect x="187.45" y="362.20" width="5.25" height="0.8" fill="#2c6a10"/>
<path d="M188.77 363.00 L190.07 364.80 L191.38 363.00" stroke="#e4f0b8" stroke-width="0.9" fill="none" opacity="0.7"/>
<line x1="190.07" y1="357.60" x2="190.07" y2="363.00" stroke="#1a1a1a" stroke-width="1.1"/>
<line x1="187.45" y1="357.60" x2="192.70" y2="357.60" stroke="#111" stroke-width="1.2"/>
<rect x="192.70" y="384.10" width="5.25" height="77.40" fill="url(#g3)"/>
<rect x="192.70" y="384.10" width="5.25" height="0.8" fill="#1e1074"/>
<path d="M194.02 384.90 L195.32 386.70 L196.62 384.90" stroke="#e4f0b8" stroke-width="0.9" fill="none" opacity="0.7"/>
<line x1="195.32" y1="380.00" x2="195.32" y2="384.90" stroke="#1a1a1a" stroke-width="1.1"/>
<line x1="192.70" y1="380.00" x2="197.95" y2="380.00" stroke="#111" stroke-width="1.2"/>
<rect x="197.95" y="354.10" width="5.25" height="107.40" fill="url(#g4)"/>
<rect x="197.95" y="354.10" width="5.25" height="0.8" fill="#186474"/>
<path d="M199.27 354.90 L200.57 356.70 L201.88 354.90" stroke="#e4f0b8" stroke-width="0.9" fill="none" opacity="0.7"/>
<line x1="200.57" y1="348.80" x2="200.57" y2="354.90" stroke="#1a1a1a" stroke-width="1.1"/>
<line x1="197.95" y1="348.80" x2="203.20" y2="348.80" stroke="#111" stroke-width="1.2"/>
<rect x="203.20" y="366.30" width="5.25" height="95.20" fill="url(#g5)"/>
<rect x="203.20" y="366.30" width="5.25" height="0.8" fill="#8a3406"/>
<path d="M204.52 367.10 L205.82 368.90 L207.12 367.10" stroke="#e4f0b8" stroke-width="0.9" fill="none" opacity="0.7"/>
<line x1="205.82" y1="360.60" x2="205.82" y2="367.10" stroke="#1a1a1a" stroke-width="1.1"/>
<line x1="203.20" y1="360.60" x2="208.45" y2="360.60" stroke="#111" stroke-width="1.2"/>
<rect x="215.75" y="345.90" width="5.25" height="115.60" fill="url(#g0)"/>
<rect x="215.75" y="345.90" width="5.25" height="0.8" fill="#0e2c78"/>
<path d="M217.07 346.70 L218.38 348.50 L219.68 346.70" stroke="#e4f0b8" stroke-width="0.9" fill="none" opacity="0.7"/>
<line x1="218.38" y1="339.20" x2="218.38" y2="346.70" stroke="#1a1a1a" stroke-width="1.1"/>
<line x1="215.75" y1="339.20" x2="221.00" y2="339.20" stroke="#111" stroke-width="1.2"/>
<rect x="221.00" y="359.00" width="5.25" height="102.50" fill="url(#g1)"/>
<rect x="221.00" y="359.00" width="5.25" height="0.8" fill="#540202"/>
<path d="M222.32 359.80 L223.62 361.60 L224.93 359.80" stroke="#e4f0b8" stroke-width="0.9" fill="none" opacity="0.7"/>
<line x1="223.62" y1="353.50" x2="223.62" y2="359.80" stroke="#1a1a1a" stroke-width="1.1"/>
<line x1="221.00" y1="353.50" x2="226.25" y2="353.50" stroke="#111" stroke-width="1.2"/>
<rect x="226.25" y="356.10" width="5.25" height="105.40" fill="url(#g2)"/>
<rect x="226.25" y="356.10" width="5.25" height="0.8" fill="#2c6a10"/>
<path d="M227.57 356.90 L228.88 358.70 L230.18 356.90" stroke="#e4f0b8" stroke-width="0.9" fill="none" opacity="0.7"/>
<line x1="228.88" y1="350.40" x2="228.88" y2="356.90" stroke="#1a1a1a" stroke-width="1.1"/>
<line x1="226.25" y1="350.40" x2="231.50" y2="350.40" stroke="#111" stroke-width="1.2"/>
<rect x="231.50" y="372.90" width="5.25" height="88.60" fill="url(#g3)"/>
<rect x="231.50" y="372.90" width="5.25" height="0.8" fill="#1e1074"/>
<path d="M232.82 373.70 L234.12 375.50 L235.43 373.70" stroke="#e4f0b8" stroke-width="0.9" fill="none" opacity="0.7"/>
<line x1="234.12" y1="368.40" x2="234.12" y2="373.70" stroke="#1a1a1a" stroke-width="1.1"/>
<line x1="231.50" y1="368.40" x2="236.75" y2="368.40" stroke="#111" stroke-width="1.2"/>
<rect x="236.75" y="350.40" width="5.25" height="111.10" fill="url(#g4)"/>
<rect x="236.75" y="350.40" width="5.25" height="0.8" fill="#186474"/>
<path d="M238.07 351.20 L239.38 353.00 L240.68 351.20" stroke="#e4f0b8" stroke-width="0.9" fill="none" opacity="0.7"/>
<line x1="239.38" y1="344.70" x2="239.38" y2="351.20" stroke="#1a1a1a" stroke-width="1.1"/>
<line x1="236.75" y1="344.70" x2="242.00" y2="344.70" stroke="#111" stroke-width="1.2"/>
<rect x="242.00" y="351.40" width="5.25" height="110.10" fill="url(#g5)"/>
<rect x="242.00" y="351.40" width="5.25" height="0.8" fill="#8a3406"/>
<path d="M243.32 352.20 L244.62 354.00 L245.93 352.20" stroke="#e4f0b8" stroke-width="0.9" fill="none" opacity="0.7"/>
<line x1="244.62" y1="345.30" x2="244.62" y2="352.20" stroke="#1a1a1a" stroke-width="1.1"/>
<line x1="242.00" y1="345.30" x2="247.25" y2="345.30" stroke="#111" stroke-width="1.2"/>
<rect x="254.55" y="363.70" width="5.25" height="97.80" fill="url(#g0)"/>
<rect x="254.55" y="363.70" width="5.25" height="0.8" fill="#0e2c78"/>
<path d="M255.87 364.50 L257.17 366.30 L258.47 364.50" stroke="#e4f0b8" stroke-width="0.9" fill="none" opacity="0.7"/>
<line x1="257.17" y1="359.00" x2="257.17" y2="364.50" stroke="#1a1a1a" stroke-width="1.1"/>
<line x1="254.55" y1="359.00" x2="259.80" y2="359.00" stroke="#111" stroke-width="1.2"/>
<rect x="259.80" y="343.90" width="5.25" height="117.60" fill="url(#g1)"/>
<rect x="259.80" y="343.90" width="5.25" height="0.8" fill="#540202"/>
<path d="M261.12 344.70 L262.42 346.50 L263.72 344.70" stroke="#e4f0b8" stroke-width="0.9" fill="none" opacity="0.7"/>
<line x1="262.42" y1="337.80" x2="262.42" y2="344.70" stroke="#1a1a1a" stroke-width="1.1"/>
<line x1="259.80" y1="337.80" x2="265.05" y2="337.80" stroke="#111" stroke-width="1.2"/>
<rect x="265.05" y="348.80" width="5.25" height="112.70" fill="url(#g2)"/>
<rect x="265.05" y="348.80" width="5.25" height="0.8" fill="#2c6a10"/>
<path d="M266.37 349.60 L267.67 351.40 L268.97 349.60" stroke="#e4f0b8" stroke-width="0.9" fill="none" opacity="0.7"/>
<line x1="267.67" y1="342.70" x2="267.67" y2="349.60" stroke="#1a1a1a" stroke-width="1.1"/>
<line x1="265.05" y1="342.70" x2="270.30" y2="342.70" stroke="#111" stroke-width="1.2"/>
<rect x="270.30" y="352.00" width="5.25" height="109.50" fill="url(#g3)"/>
<rect x="270.30" y="352.00" width="5.25" height="0.8" fill="#1e1074"/>
<path d="M271.62 352.80 L272.92 354.60 L274.22 352.80" stroke="#e4f0b8" stroke-width="0.9" fill="none" opacity="0.7"/>
<line x1="272.92" y1="345.90" x2="272.92" y2="352.80" stroke="#1a1a1a" stroke-width="1.1"/>
<line x1="270.30" y1="345.90" x2="275.55" y2="345.90" stroke="#111" stroke-width="1.2"/>
<rect x="275.55" y="358.20" width="5.25" height="103.30" fill="url(#g4)"/>
<rect x="275.55" y="358.20" width="5.25" height="0.8" fill="#186474"/>
<path d="M276.87 359.00 L278.17 360.80 L279.47 359.00" stroke="#e4f0b8" stroke-width="0.9" fill="none" opacity="0.7"/>
<line x1="278.17" y1="352.90" x2="278.17" y2="359.00" stroke="#1a1a1a" stroke-width="1.1"/>
<line x1="275.55" y1="352.90" x2="280.80" y2="352.90" stroke="#111" stroke-width="1.2"/>
<rect x="280.80" y="360.20" width="5.25" height="101.30" fill="url(#g5)"/>
<rect x="280.80" y="360.20" width="5.25" height="0.8" fill="#8a3406"/>
<path d="M282.12 361.00 L283.42 362.80 L284.72 361.00" stroke="#e4f0b8" stroke-width="0.9" fill="none" opacity="0.7"/>
<line x1="283.42" y1="354.90" x2="283.42" y2="361.00" stroke="#1a1a1a" stroke-width="1.1"/>
<line x1="280.80" y1="354.90" x2="286.05" y2="354.90" stroke="#111" stroke-width="1.2"/>
<rect x="293.35" y="326.10" width="5.25" height="135.40" fill="url(#g0)"/>
<rect x="293.35" y="326.10" width="5.25" height="0.8" fill="#0e2c78"/>
<path d="M294.67 326.90 L295.97 328.70 L297.27 326.90" stroke="#e4f0b8" stroke-width="0.9" fill="none" opacity="0.7"/>
<line x1="295.97" y1="320.00" x2="295.97" y2="326.90" stroke="#1a1a1a" stroke-width="1.1"/>
<line x1="293.35" y1="320.00" x2="298.60" y2="320.00" stroke="#111" stroke-width="1.2"/>
<rect x="298.60" y="340.20" width="5.25" height="121.30" fill="url(#g1)"/>
<rect x="298.60" y="340.20" width="5.25" height="0.8" fill="#540202"/>
<path d="M299.92 341.00 L301.22 342.80 L302.52 341.00" stroke="#e4f0b8" stroke-width="0.9" fill="none" opacity="0.7"/>
<line x1="301.22" y1="334.70" x2="301.22" y2="341.00" stroke="#1a1a1a" stroke-width="1.1"/>
<line x1="298.60" y1="334.70" x2="303.85" y2="334.70" stroke="#111" stroke-width="1.2"/>
<rect x="303.85" y="354.20" width="5.25" height="107.30" fill="url(#g2)"/>
<rect x="303.85" y="354.20" width="5.25" height="0.8" fill="#2c6a10"/>
<path d="M305.17 355.00 L306.47 356.80 L307.77 355.00" stroke="#e4f0b8" stroke-width="0.9" fill="none" opacity="0.7"/>
<line x1="306.47" y1="349.30" x2="306.47" y2="355.00" stroke="#1a1a1a" stroke-width="1.1"/>
<line x1="303.85" y1="349.30" x2="309.10" y2="349.30" stroke="#111" stroke-width="1.2"/>
<rect x="309.10" y="351.30" width="5.25" height="110.20" fill="url(#g3)"/>
<rect x="309.10" y="351.30" width="5.25" height="0.8" fill="#1e1074"/>
<path d="M310.42 352.10 L311.72 353.90 L313.02 352.10" stroke="#e4f0b8" stroke-width="0.9" fill="none" opacity="0.7"/>
<line x1="311.72" y1="346.10" x2="311.72" y2="352.10" stroke="#1a1a1a" stroke-width="1.1"/>
<line x1="309.10" y1="346.10" x2="314.35" y2="346.10" stroke="#111" stroke-width="1.2"/>
<rect x="314.35" y="346.10" width="5.25" height="115.40" fill="url(#g4)"/>
<rect x="314.35" y="346.10" width="5.25" height="0.8" fill="#186474"/>
<path d="M315.67 346.90 L316.97 348.70 L318.27 346.90" stroke="#e4f0b8" stroke-width="0.9" fill="none" opacity="0.7"/>
<line x1="316.97" y1="339.80" x2="316.97" y2="346.90" stroke="#1a1a1a" stroke-width="1.1"/>
<line x1="314.35" y1="339.80" x2="319.60" y2="339.80" stroke="#111" stroke-width="1.2"/>
<rect x="319.60" y="341.40" width="5.25" height="120.10" fill="url(#g5)"/>
<rect x="319.60" y="341.40" width="5.25" height="0.8" fill="#8a3406"/>
<path d="M320.92 342.20 L322.22 344.00 L323.52 342.20" stroke="#e4f0b8" stroke-width="0.9" fill="none" opacity="0.7"/>
<line x1="322.22" y1="335.30" x2="322.22" y2="342.20" stroke="#1a1a1a" stroke-width="1.1"/>
<line x1="319.60" y1="335.30" x2="324.85" y2="335.30" stroke="#111" stroke-width="1.2"/>
<rect x="332.15" y="355.50" width="5.25" height="106.00" fill="url(#g0)"/>
<rect x="332.15" y="355.50" width="5.25" height="0.8" fill="#0e2c78"/>
<path d="M333.47 356.30 L334.77 358.10 L336.07 356.30" stroke="#e4f0b8" stroke-width="0.9" fill="none" opacity="0.7"/>
<line x1="334.77" y1="350.20" x2="334.77" y2="356.30" stroke="#1a1a1a" stroke-width="1.1"/>
<line x1="332.15" y1="350.20" x2="337.40" y2="350.20" stroke="#111" stroke-width="1.2"/>
<rect x="337.40" y="354.30" width="5.25" height="107.20" fill="url(#g1)"/>
<rect x="337.40" y="354.30" width="5.25" height="0.8" fill="#540202"/>
<path d="M338.72 355.10 L340.02 356.90 L341.32 355.10" stroke="#e4f0b8" stroke-width="0.9" fill="none" opacity="0.7"/>
<line x1="340.02" y1="348.40" x2="340.02" y2="355.10" stroke="#1a1a1a" stroke-width="1.1"/>
<line x1="337.40" y1="348.40" x2="342.65" y2="348.40" stroke="#111" stroke-width="1.2"/>
<rect x="342.65" y="365.00" width="5.25" height="96.50" fill="url(#g2)"/>
<rect x="342.65" y="365.00" width="5.25" height="0.8" fill="#2c6a10"/>
<path d="M343.97 365.80 L345.27 367.60 L346.57 365.80" stroke="#e4f0b8" stroke-width="0.9" fill="none" opacity="0.7"/>
<line x1="345.27" y1="359.40" x2="345.27" y2="365.80" stroke="#1a1a1a" stroke-width="1.1"/>
<line x1="342.65" y1="359.40" x2="347.90" y2="359.40" stroke="#111" stroke-width="1.2"/>
<rect x="347.90" y="366.70" width="5.25" height="94.80" fill="url(#g3)"/>
<rect x="347.90" y="366.70" width="5.25" height="0.8" fill="#1e1074"/>
<path d="M349.22 367.50 L350.52 369.30 L351.82 367.50" stroke="#e4f0b8" stroke-width="0.9" fill="none" opacity="0.7"/>
<line x1="350.52" y1="361.40" x2="350.52" y2="367.50" stroke="#1a1a1a" stroke-width="1.1"/>
<line x1="347.90" y1="361.40" x2="353.15" y2="361.40" stroke="#111" stroke-width="1.2"/>
<rect x="353.15" y="369.60" width="5.25" height="91.90" fill="url(#g4)"/>
<rect x="353.15" y="369.60" width="5.25" height="0.8" fill="#186474"/>
<path d="M354.47 370.40 L355.77 372.20 L357.07 370.40" stroke="#e4f0b8" stroke-width="0.9" fill="none" opacity="0.7"/>
<line x1="355.77" y1="366.70" x2="355.77" y2="370.40" stroke="#1a1a1a" stroke-width="1.1"/>
<line x1="353.15" y1="366.70" x2="358.40" y2="366.70" stroke="#111" stroke-width="1.2"/>
<rect x="358.40" y="348.70" width="5.25" height="112.80" fill="url(#g5)"/>
<rect x="358.40" y="348.70" width="5.25" height="0.8" fill="#8a3406"/>
<path d="M359.72 349.50 L361.02 351.30 L362.32 349.50" stroke="#e4f0b8" stroke-width="0.9" fill="none" opacity="0.7"/>
<line x1="361.02" y1="343.50" x2="361.02" y2="349.50" stroke="#1a1a1a" stroke-width="1.1"/>
<line x1="358.40" y1="343.50" x2="363.65" y2="343.50" stroke="#111" stroke-width="1.2"/>
<text x="59.10" y="482.00" font-size="10.7" textLength="35.70" lengthAdjust="spacingAndGlyphs" fill="#1a1a1a">Control</text>
<text x="98.90" y="482.00" font-size="10.7" textLength="29.60" lengthAdjust="spacingAndGlyphs" fill="#1a1a1a">25μM</text>
<text x="139.80" y="482.00" font-size="10.7" textLength="28.00" lengthAdjust="spacingAndGlyphs" fill="#1a1a1a">50μM</text>
<text x="174.50" y="482.00" font-size="10.7" textLength="34.70" lengthAdjust="spacingAndGlyphs" fill="#1a1a1a">100μM</text>
<text x="214.50" y="482.00" font-size="10.7" textLength="34.30" lengthAdjust="spacingAndGlyphs" fill="#1a1a1a">200μM</text>
<text x="253.30" y="482.00" font-size="10.7" textLength="33.80" lengthAdjust="spacingAndGlyphs" fill="#1a1a1a">300μM</text>
<text x="292.40" y="482.00" font-size="10.7" textLength="34.30" lengthAdjust="spacingAndGlyphs" fill="#1a1a1a">400μM</text>
<text x="329.80" y="482.00" font-size="10.7" textLength="33.30" lengthAdjust="spacingAndGlyphs" fill="#1a1a1a">500μM</text>
<rect x="337.40" y="354.30" width="5.25" height="41.30" fill="#dc6446"/>
<line x1="340.02" y1="348.40" x2="340.02" y2="354.30" stroke="#2a2a2a" stroke-width="1"/>
<line x1="337.52" y1="348.40" x2="342.52" y2="348.40" stroke="#2a2a2a" stroke-width="1.1"/>
<rect x="342.65" y="365.00" width="5.25" height="30.60" fill="#b4e2a0"/>
<line x1="345.27" y1="359.40" x2="345.27" y2="365.00" stroke="#8a8a8a" stroke-width="1"/>
<line x1="342.77" y1="359.40" x2="347.77" y2="359.40" stroke="#8a8a8a" stroke-width="1.1"/>
<rect x="347.90" y="366.70" width="5.25" height="28.90" fill="#a49a9c"/>
<line x1="350.52" y1="361.40" x2="350.52" y2="366.70" stroke="#8a8a8a" stroke-width="1"/>
<line x1="348.02" y1="361.40" x2="353.02" y2="361.40" stroke="#8a8a8a" stroke-width="1.1"/>
<rect x="353.15" y="369.60" width="5.25" height="26.00" fill="#9ade88"/>
<line x1="355.77" y1="366.70" x2="355.77" y2="369.60" stroke="#8a8a8a" stroke-width="1"/>
<line x1="353.27" y1="366.70" x2="358.27" y2="366.70" stroke="#8a8a8a" stroke-width="1.1"/>
<rect x="358.40" y="348.70" width="5.25" height="46.90" fill="#d4a484"/>
<line x1="361.02" y1="343.50" x2="361.02" y2="348.70" stroke="#8a8a8a" stroke-width="1"/>
<line x1="358.52" y1="343.50" x2="363.52" y2="343.50" stroke="#8a8a8a" stroke-width="1.1"/>
<rect x="349.40" y="47.80" width="7.4" height="7.4" fill="url(#g0)" stroke="#0e2c78" stroke-width="0.6"/>
<path d="M351.10 49.00 L353.10 50.80 L355.10 49.00" stroke="#e8f0d0" stroke-width="1" fill="none" opacity="0.75"/>
<text x="359.70" y="55.30" font-size="11" textLength="30.30" lengthAdjust="spacingAndGlyphs" fill="#1a1a1a">DHPM</text>
<rect x="349.40" y="69.00" width="7.4" height="7.4" fill="url(#g1)" stroke="#540202" stroke-width="0.6"/>
<path d="M351.10 70.20 L353.10 72.00 L355.10 70.20" stroke="#e8f0d0" stroke-width="1" fill="none" opacity="0.75"/>
<text x="359.70" y="76.50" font-size="11" textLength="21.70" lengthAdjust="spacingAndGlyphs" fill="#1a1a1a">CQD</text>
<rect x="349.40" y="90.20" width="7.4" height="7.4" fill="url(#g2)" stroke="#2c6a10" stroke-width="0.6"/>
<path d="M351.10 91.40 L353.10 93.20 L355.10 91.40" stroke="#e8f0d0" stroke-width="1" fill="none" opacity="0.75"/>
<text x="363.00" y="97.70" font-size="11" textLength="14.20" lengthAdjust="spacingAndGlyphs" fill="#1a1a1a">1:1</text>
<rect x="349.40" y="111.40" width="7.4" height="7.4" fill="url(#g3)" stroke="#1e1074" stroke-width="0.6"/>
<path d="M351.10 112.60 L353.10 114.40 L355.10 112.60" stroke="#e8f0d0" stroke-width="1" fill="none" opacity="0.75"/>
<text x="363.00" y="118.90" font-size="11" textLength="14.20" lengthAdjust="spacingAndGlyphs" fill="#1a1a1a">1:2</text>
<rect x="349.40" y="132.60" width="7.4" height="7.4" fill="url(#g4)" stroke="#186474" stroke-width="0.6"/>
<path d="M351.10 133.80 L353.10 135.60 L355.10 133.80" stroke="#e8f0d0" stroke-width="1" fill="none" opacity="0.75"/>
<text x="363.00" y="140.10" font-size="11" textLength="14.20" lengthAdjust="spacingAndGlyphs" fill="#1a1a1a">1:3</text>
<rect x="349.40" y="153.80" width="7.4" height="7.4" fill="url(#g5)" stroke="#8a3406" stroke-width="0.6"/>
<path d="M351.10 155.00 L353.10 156.80 L355.10 155.00" stroke="#e8f0d0" stroke-width="1" fill="none" opacity="0.75"/>
<text x="363.00" y="161.30" font-size="11" textLength="14.20" lengthAdjust="spacingAndGlyphs" fill="#1a1a1a">1:4</text>
<rect x="343.10" y="282.10" width="7.4" height="7.4" fill="url(#g0)" stroke="#0e2c78" stroke-width="0.6"/>
<path d="M344.80 283.30 L346.80 285.10 L348.80 283.30" stroke="#e8f0d0" stroke-width="1" fill="none" opacity="0.75"/>
<text x="353.70" y="289.60" font-size="11" textLength="30.30" lengthAdjust="spacingAndGlyphs" fill="#1a1a1a">DHPM</text>
<rect x="343.10" y="302.00" width="7.4" height="7.4" fill="url(#g1)" stroke="#540202" stroke-width="0.6"/>
<path d="M344.80 303.20 L346.80 305.00 L348.80 303.20" stroke="#e8f0d0" stroke-width="1" fill="none" opacity="0.75"/>
<text x="353.70" y="309.50" font-size="11" textLength="21.70" lengthAdjust="spacingAndGlyphs" fill="#1a1a1a">CQD</text>
<rect x="343.10" y="321.90" width="7.4" height="7.4" fill="url(#g2)" stroke="#2c6a10" stroke-width="0.6"/>
<path d="M344.80 323.10 L346.80 324.90 L348.80 323.10" stroke="#e8f0d0" stroke-width="1" fill="none" opacity="0.75"/>
<text x="357.00" y="329.40" font-size="11" textLength="14.20" lengthAdjust="spacingAndGlyphs" fill="#1a1a1a">1:1</text>
<rect x="343.10" y="341.80" width="7.4" height="7.4" fill="url(#g3)" stroke="#1e1074" stroke-width="0.6"/>
<path d="M344.80 343.00 L346.80 344.80 L348.80 343.00" stroke="#e8f0d0" stroke-width="1" fill="none" opacity="0.75"/>
<text x="357.00" y="349.30" font-size="11" textLength="14.20" lengthAdjust="spacingAndGlyphs" fill="#1a1a1a">1:2</text>
<rect x="343.10" y="361.70" width="7.4" height="7.4" fill="url(#g4)" stroke="#186474" stroke-width="0.6"/>
<path d="M344.80 362.90 L346.80 364.70 L348.80 362.90" stroke="#e8f0d0" stroke-width="1" fill="none" opacity="0.75"/>
<text x="357.00" y="369.20" font-size="11" textLength="14.20" lengthAdjust="spacingAndGlyphs" fill="#1a1a1a">1:3</text>
<rect x="343.10" y="381.60" width="7.4" height="7.4" fill="url(#g5)" stroke="#8a3406" stroke-width="0.6"/>
<path d="M344.80 382.80 L346.80 384.60 L348.80 382.80" stroke="#e8f0d0" stroke-width="1" fill="none" opacity="0.75"/>
<text x="357.00" y="389.10" font-size="11" textLength="14.20" lengthAdjust="spacingAndGlyphs" fill="#1a1a1a">1:4</text>
<text x="118.6" y="32.2" font-size="13" font-weight="bold" textLength="76.90" lengthAdjust="spacingAndGlyphs" fill="#111">Cytotoxicity</text>
<text x="202.5" y="32.2" font-size="13" font-weight="bold" textLength="43.40" lengthAdjust="spacingAndGlyphs" fill="#111">against</text>
<text x="253.6" y="32.2" font-size="13" font-weight="bold" textLength="35.70" lengthAdjust="spacingAndGlyphs" fill="#111">A549</text>
<text x="109" y="272.2" font-size="13" font-weight="bold" textLength="75.20" lengthAdjust="spacingAndGlyphs" fill="#111">Cytotoxicity</text>
<text x="193.5" y="272.2" font-size="13" font-weight="bold" textLength="44.00" lengthAdjust="spacingAndGlyphs" fill="#111">against</text>
<text x="246.8" y="272.2" font-size="13" font-weight="bold" textLength="37.00" lengthAdjust="spacingAndGlyphs" fill="#111">PBMC</text>
<text x="152.2" y="243.9" font-size="12" font-weight="bold" textLength="122.7" lengthAdjust="spacingAndGlyphs" fill="#111">Concentration in μM</text>
<text x="143.7" y="493.6" font-size="12" font-weight="bold" textLength="121.8" lengthAdjust="spacingAndGlyphs" fill="#111">Concentration in μM</text>
<text transform="translate(27.2,181.50) rotate(-90)" font-size="13" font-weight="bold" textLength="68.80" lengthAdjust="spacingAndGlyphs" fill="#111">Percentage</text>
<text transform="translate(27.2,108.20) rotate(-90)" font-size="13" font-weight="bold" textLength="51.90" lengthAdjust="spacingAndGlyphs" fill="#111">Viability</text>
<text transform="translate(21.4,426.50) rotate(-90)" font-size="13" font-weight="bold" textLength="69.40" lengthAdjust="spacingAndGlyphs" fill="#111">Percentage</text>
<text transform="translate(21.4,353.80) rotate(-90)" font-size="13" font-weight="bold" textLength="51.70" lengthAdjust="spacingAndGlyphs" fill="#111">Viability</text>
<text x="1.5" y="11.9" font-family="'Liberation Serif', serif" font-size="14.8" font-weight="bold" textLength="18" lengthAdjust="spacingAndGlyphs" fill="#111">(a)</text>
<text x="1.4" y="254.5" font-family="'Liberation Serif', serif" font-size="14.8" font-weight="bold" textLength="18.3" lengthAdjust="spacingAndGlyphs" fill="#111">(b)</text>
</svg>
</body></html>
